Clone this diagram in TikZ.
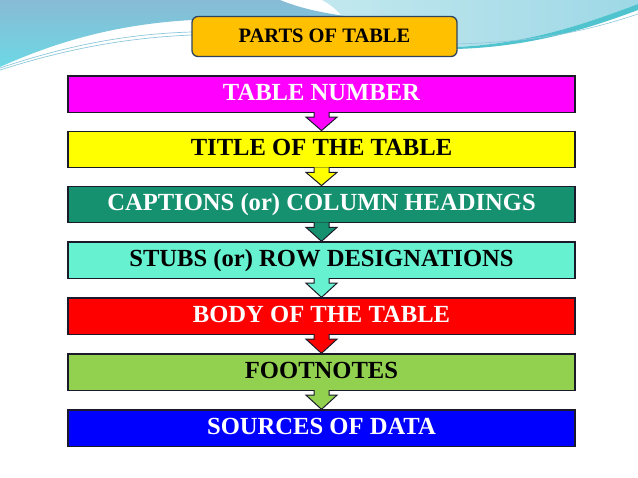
\documentclass[tikz,border=0pt]{standalone}
\usepackage{fontspec}
\setmainfont{Liberation Serif}
\usetikzlibrary{calc}
\definecolor{cOrange}{HTML}{FFC000}
\definecolor{cMag}{HTML}{FF00FF}
\definecolor{cYel}{HTML}{FFFF00}
\definecolor{cTeal}{HTML}{16916F}
\definecolor{cAqua}{HTML}{66F2D0}
\definecolor{cRed}{HTML}{FF0000}
\definecolor{cGreen}{HTML}{92D050}
\definecolor{cBlue}{HTML}{0000FF}
\definecolor{cEdge}{HTML}{1A1A2A}
\definecolor{cTitleEdge}{HTML}{2E4460}
\definecolor{bgBlueTop}{HTML}{88BBD5}
\definecolor{bgBlueBot}{HTML}{6CD8E4}
\definecolor{bgCyanL}{HTML}{C2E8EE}
\definecolor{bgCyanR}{HTML}{9ED8E6}
\definecolor{bgTeal}{HTML}{4FC3CE}
\definecolor{bgLine}{HTML}{8EC8DC}
\tikzset{
  partbox/.style={draw=cEdge, line width=1.3pt, minimum width=507pt, minimum height=36.5pt,
    inner sep=0pt, text height=16.4pt, text depth=4pt,
    font=\fontsize{24.6}{26}\selectfont\bfseries},
  titlebox/.style={draw=cTitleEdge, line width=1.3pt, fill=cOrange, rounded corners=6pt,
    minimum width=265pt, minimum height=40pt, inner sep=0pt, text height=13.6pt, text depth=1pt,
    font=\fontsize{20.5}{22}\selectfont\bfseries},
  blockarrow/.style={draw=cEdge, line width=1pt, line join=miter},
}
\newcommand{\partarrow}[3]{%
  \filldraw[blockarrow, fill=#3]
    ($(#1.south)+(-7.5,-1)$) -- ($(#1.south)+(-7.5,4)$) -- ($(#1.south)+(-15.5,4)$)
    -- (#2.north) -- ($(#1.south)+(15.5,4)$) -- ($(#1.south)+(7.5,4)$) -- ($(#1.south)+(7.5,-1)$);
}
\begin{document}
\begin{tikzpicture}[x=1pt,y=-1pt]
\useasboundingbox (0,0) rectangle (638,478);
\fill[white] (0,0) rectangle (638,478);
% background swoosh
\shade[left color=bgCyanL, right color=bgCyanR]
  (322,0) -- (638,0) -- (638,4) .. controls (590,22) and (530,44) .. (455,47) -- (360,47)
  .. controls (350,30) and (345,12) .. (322,0) -- cycle;
\fill[bgTeal] (638,4) .. controls (590,22) and (530,44) .. (455,47) -- (455,49)
  .. controls (535,47) and (595,26) .. (638,10) -- cycle;
\draw[bgLine, line width=0.6pt] (638,14) .. controls (590,30) and (540,42) .. (455,44);
\shade[top color=bgBlueTop, bottom color=bgBlueBot]
  (0,0) -- (280,0) .. controls (300,8) and (320,13) .. (360,18) -- (192,20)
  .. controls (120,24) and (60,40) .. (0,67) -- cycle;
\draw[bgLine, line width=0.7pt] (0,68) .. controls (60,48) and (120,34) .. (192,32);
\draw[bgLine, line width=0.7pt] (0,70) .. controls (60,51) and (120,38) .. (192,35);
% title
\node[titlebox] (title) at (324.5,36.5) {PARTS OF TABLE};
% boxes
\node[partbox, fill=cMag, text=white] (b1) at (321.5,94.25) {TABLE NUMBER};
\node[partbox, fill=cYel, text=black] (b2) at (321.5,149.5) {TITLE OF THE TABLE};
\node[partbox, fill=cTeal, text=white] (b3) at (321.5,204.5) {CAPTIONS (or) COLUMN HEADINGS};
\node[partbox, fill=cAqua, text=black] (b4) at (321.5,260.25) {STUBS (or) ROW DESIGNATIONS};
\node[partbox, fill=cRed, text=white] (b5) at (321.5,316.25) {BODY OF THE TABLE};
\node[partbox, fill=cGreen, text=black] (b6) at (321.5,372.25) {FOOTNOTES};
\node[partbox, fill=cBlue, text=white] (b7) at (321.5,428.25) {SOURCES OF DATA};
% arrows
\partarrow{b1}{b2}{cMag}
\partarrow{b2}{b3}{cYel}
\partarrow{b3}{b4}{cTeal}
\partarrow{b4}{b5}{cAqua}
\partarrow{b5}{b6}{cRed}
\partarrow{b6}{b7}{cGreen}
\end{tikzpicture}
\end{document}
